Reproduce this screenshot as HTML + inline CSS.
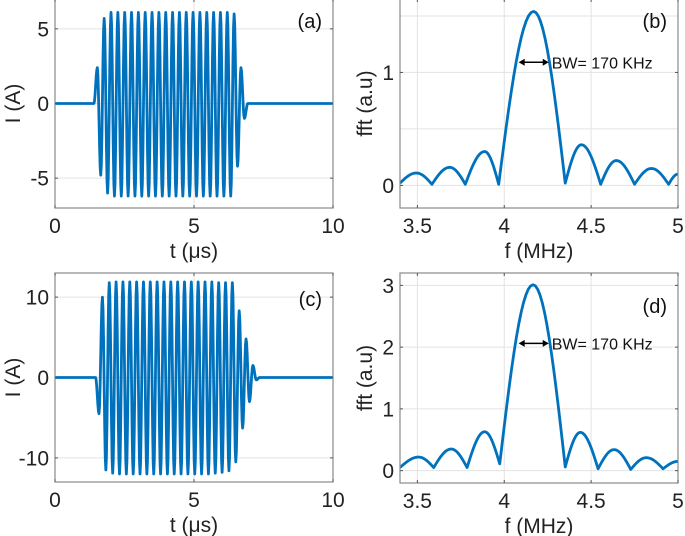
<!DOCTYPE html>
<html><head><meta charset="utf-8"><style>
html,body{margin:0;padding:0;background:#fff;}
svg{display:block;font-family:"Liberation Sans",Arial,sans-serif;}
</style></head><body>
<svg id="fig" width="685" height="536" viewBox="0 0 685 536" xmlns="http://www.w3.org/2000/svg"></svg>
<script>
// ---- data ----
const aStart = 1.40, aHalf = 0.123;
const aExtrema = [0, 2.4,-4.8,5.7,-6.0,6.1,-6.2,6.1,-6.2,6.1,-6.2,6.1,-6.2,6.1,-6.2,6.1,-6.2,6.1,-6.2,6.1,-6.2,6.1,-6.2,6.1,-6.2,6.1,-6.2,6.1,-6.2,6.1,-6.2,6.1,-6.2,6.1,-6.2,6.1,-6.2,6.1,-6.2,6.1,-6.2,6.0,-4.2,2.4,-1.0,0];
const cStart = 1.46, cHalf = 0.123;
const cExtrema = [0,-4.5,10.0,-11.5,11.8,-11.9,11.9,-12.0,11.9,-12.0,11.9,-12.0,11.9,-12.0,11.9,-12.0,11.9,-12.0,11.9,-12.0,11.9,-12.0,11.9,-12.0,11.9,-12.0,11.9,-12.0,11.9,-12.0,11.9,-12.0,11.9,-12.0,11.9,-11.9,11.8,-11.8,11.8,-11.6,11.8,-10.5,8.3,-6.3,4.8,-3.0,1.5,-0.3,0];
const bFreq = [3.4,3.494,3.584,3.686,3.776,3.887,3.968,4.169,4.351,4.444,4.555,4.645,4.75,4.847,4.946,5.0];
const bMag  = [0.02,0.11,0.01,0.16,0.01,0.30,0.01,1.54,0.02,0.36,0.01,0.22,0.01,0.15,0.01,0.10];
const dFreq = [3.4,3.507,3.594,3.695,3.786,3.887,3.974,4.166,4.351,4.438,4.54,4.632,4.728,4.818,4.914,5.0];
const dMag  = [0.05,0.22,0.05,0.35,0.05,0.63,0.11,3.01,0.06,0.62,0.03,0.34,0.02,0.21,0.03,0.15];
const bwLabel = "BW= 170 KHz";
const bwB = [4.083,4.256,1.09];
const bwD = [4.083,4.256,2.06];

// ---- drawing ----
const NS="http://www.w3.org/2000/svg";
const svg=document.getElementById('fig');
function el(tag,attrs,parent){const e=document.createElementNS(NS,tag);for(const k in attrs)e.setAttribute(k,attrs[k]);(parent||svg).appendChild(e);return e;}
const BLUE="#0072BD";
const FS=21;

function panel(o){
  const g=el('g',{});
  
  
  const sx=v=>o.x0+(v-o.xmin)/(o.xmax-o.xmin)*(o.x1-o.x0);
  const sy=v=>o.y1-(v-o.ymin)/(o.ymax-o.ymin)*(o.y1-o.y0);
  o.sx=sx;o.sy=sy;
  const clipId='clip-'+o.name;
  const cp=el('clipPath',{id:clipId},g);
  el('rect',{x:o.x0,y:o.y0,width:o.x1-o.x0,height:o.y1-o.y0},cp);
  o.xgrid.forEach(v=>{const l=el('line',{x1:sx(v),x2:sx(v),y1:o.y0,y2:o.y1,stroke:'#e3e3e3','stroke-width':1},g);});
  o.ygrid.forEach(v=>{const l=el('line',{x1:o.x0,x2:o.x1,y1:sy(v),y2:sy(v),stroke:'#e3e3e3','stroke-width':1},g);});
  const p=el('path',{d:o.path(sx,sy),fill:'none',stroke:BLUE,'stroke-width':2.8,'stroke-linejoin':'round','clip-path':'url(#'+clipId+')'},g);
  
  
  const b=el('rect',{x:o.x0,y:o.y0,width:o.x1-o.x0,height:o.y1-o.y0,fill:'none',stroke:'#8a8a8a','stroke-width':1.2},g);
  
  
  o.xticks.forEach((v,i)=>{
    el('line',{x1:sx(v),x2:sx(v),y1:o.y1,y2:o.y1-3,stroke:'#555'},g);
    el('line',{x1:sx(v),x2:sx(v),y1:o.y0,y2:o.y0+3,stroke:'#555'},g);
    const t=el('text',{x:sx(v),y:o.y1+25,'text-anchor':'middle','font-size':FS,fill:'#222'},g);
    t.textContent=o.xlabels[i];
    
    
  });
  o.yticks.forEach((v,i)=>{
    el('line',{x1:o.x0,x2:o.x0+3,y1:sy(v),y2:sy(v),stroke:'#555'},g);
    el('line',{x1:o.x1,x2:o.x1-3,y1:sy(v),y2:sy(v),stroke:'#555'},g);
    const t=el('text',{x:o.x0-6,y:sy(v)+7.5,'text-anchor':'end','font-size':FS,fill:'#222'},g);
    t.textContent=o.ylabels[i];
    
    
  });
  const xt=el('text',{x:(o.x0+o.x1)/2,y:o.y1+50,'text-anchor':'middle','font-size':FS,fill:'#222'},g);
  xt.textContent=o.xtitle;
  
  
  const yc=(o.y0+o.y1)/2;
  const yt=el('text',{x:o.ytx,y:yc,'text-anchor':'middle','font-size':FS,fill:'#222',transform:'rotate(-90 '+o.ytx+' '+yc+')'},g);
  yt.textContent=o.ytitle;
  
  
  const pl=el('text',{x:o.x1-11,y:o.y0+o.ply,'text-anchor':'end','font-size':20,fill:'#111'},g);
  pl.textContent=o.label;
  
  
  return g;
}

function timePath(start,half,ext,tmin,tmax){
  return (sx,sy)=>{
    let d='M'+sx(tmin)+','+sy(0)+' L'+sx(start)+','+sy(0);
    for(let i=0;i<ext.length-1;i++){
      const t0=start+i*half,a=ext[i],b=ext[i+1];
      for(let k=1;k<=6;k++){const s=k/6;const v=a+(b-a)*(1-Math.cos(Math.PI*s))/2;d+=' L'+sx(t0+s*half).toFixed(2)+','+sy(v).toFixed(2);}
    }
    d+=' L'+sx(tmax)+','+sy(0);
    return d;
  };
}
function specPath(f,m){
  return (sx,sy)=>{
    let d='M'+sx(f[0])+','+sy(m[0]);
    for(let i=0;i<f.length-1;i++){
      const up=m[i+1]>m[i];
      for(let k=1;k<=14;k++){const s=k/14;
        const w=up?Math.sin(Math.PI/2*s):1-Math.cos(Math.PI/2*s);
        const v=m[i]+(m[i+1]-m[i])*w;
        d+=' L'+sx(f[i]+(f[i+1]-f[i])*s).toFixed(2)+','+sy(v).toFixed(2);}
    }
    return d;
  };
}
function bw(o,arr,name){
  const y=o.sy(arr[2]),xa=o.sx(arr[0]),xb=o.sx(arr[1]);
  const g=el('g',{});
  
  
  el('line',{x1:xa+2,x2:xb-2,y1:y,y2:y,stroke:'#000','stroke-width':1.5},g);
  el('path',{d:`M${xa},${y} l6,-3.5 v7 z M${xb},${y} l-6,-3.5 v7 z`,fill:'#000'},g);
  const t=el('text',{x:xb+3,y:y+6,'font-size':16,fill:'#111'},g);
  t.textContent=bwLabel;
}

panel({name:'panel-a',x0:55,x1:333,y0:-1,y1:208,xmin:0,xmax:10,ymin:-7,ymax:7,
  xgrid:[5],ygrid:[-5,0,5],xticks:[0,5,10],xlabels:['0','5','10'],yticks:[-5,0,5],ylabels:['-5','0','5'],
  xtitle:'t (μs)',ytitle:'I (A)',ytx:20,label:'(a)',ply:29,path:timePath(aStart,aHalf,aExtrema,0,10)});
const pb={name:'panel-b',x0:400,x1:678,y0:-1,y1:208,xmin:3.4,xmax:5,ymin:-0.2,ymax:1.65,
  xgrid:[3.5,4,4.5],ygrid:[0,0.5,1,1.5],xticks:[3.5,4,4.5,5],xlabels:['3.5','4','4.5','5'],yticks:[0,1],ylabels:['0','1'],
  xtitle:'f (MHz)',ytitle:'fft (a.u)',ytx:372,label:'(b)',ply:29,path:specPath(bFreq,bMag)};
panel(pb);bw(pb,bwB,'bandwidth-annotation-b');
panel({name:'panel-c',x0:55,x1:333,y0:273,y1:482,xmin:0,xmax:10,ymin:-13,ymax:13,
  xgrid:[5],ygrid:[-10,0,10],xticks:[0,5,10],xlabels:['0','5','10'],yticks:[-10,0,10],ylabels:['-10','0','10'],
  xtitle:'t (μs)',ytitle:'I (A)',ytx:20,label:'(c)',ply:33,path:timePath(cStart,cHalf,cExtrema,0,10)});
const pd={name:'panel-d',x0:400,x1:678,y0:273,y1:483,xmin:3.4,xmax:5,ymin:-0.2,ymax:3.2,
  xgrid:[3.5,4,4.5],ygrid:[0,1,2,3],xticks:[3.5,4,4.5,5],xlabels:['3.5','4','4.5','5'],yticks:[0,1,2,3],ylabels:['0','1','2','3'],
  xtitle:'f (MHz)',ytitle:'fft (a.u)',ytx:372,label:'(d)',ply:40,path:specPath(dFreq,dMag)};
panel(pd);bw(pd,bwD,'bandwidth-annotation-d');
</script>
</body></html>
